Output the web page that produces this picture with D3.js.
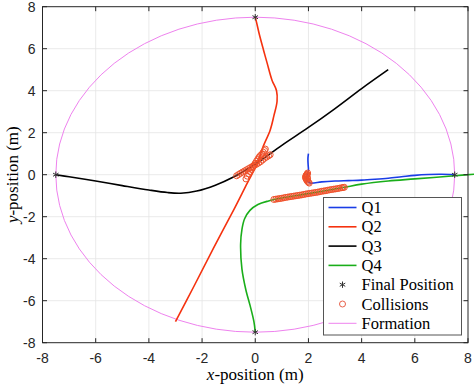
<!DOCTYPE html>
<html>
<head>
<meta charset="utf-8">
<script src="https://cdn.jsdelivr.net/npm/d3@7"></script>
<style>
  body { margin: 0; background: #fff; }
  svg { display: block; }
</style>
</head>
<body>
<div id="chart"></div>
<script>
// trajectories (x, y in metres)
const q1 = [[2.0,1.0],[1.98,0.75],[1.99,0.45],[2.0,0.2],[1.95,0.0],[1.93,-0.2],[1.98,-0.33],[2.09,-0.4],
  [2.5,-0.34],[3.0,-0.3],[3.5,-0.28],[4.0,-0.26],[4.5,-0.22],[5.0,-0.17],[5.5,-0.1],[6.0,-0.03],
  [6.5,0.01],[7.0,0.02],[7.5,0.0]];
const q2 = [[-3.0,-7.0],[-2.3,-5.3],[-1.57,-3.5],[-0.8,-1.65],[-0.3,-0.4],[0.05,0.46],[0.3,1.35],
  [0.56,2.12],[0.7,2.8],[0.82,3.5],[0.8,4.0],[0.63,4.5],[0.45,5.3],[0.31,5.94],[0.15,6.7],
  [0.04,7.3],[0.0,7.5]];
const q3 = [[5.0,5.0],[4.0,4.1],[3.0,3.15],[2.0,2.25],[1.0,1.4],[0.0,0.5],[-0.8,-0.1],[-1.5,-0.5],
  [-2.2,-0.78],[-2.8,-0.88],[-3.3,-0.85],[-4.0,-0.73],[-5.0,-0.52],[-6.0,-0.3],[-7.0,-0.1],[-7.5,0.0]];
const q4 = [[8.3,0.03],[7.5,-0.05],[6.0,-0.2],[5.0,-0.3],[4.0,-0.45],[3.3,-0.61],[2.0,-0.9],
  [1.0,-1.11],[0.5,-1.25],[0.1,-1.42],[-0.2,-1.7],[-0.4,-2.1],[-0.5,-2.6],[-0.55,-3.3],
  [-0.5,-4.5],[-0.35,-5.5],[-0.2,-6.2],[-0.05,-7.0],[0.0,-7.5]];

const finalPositions = [[7.5,0],[0,7.5],[-7.5,0],[0,-7.5]];
const formationRadius = 7.5;

// crossing of Q2 and Q3
const collisionsCross = [
  [-0.7,-0.05],[-0.625,0.01],[-0.55,0.07],[-0.475,0.125],[-0.4,0.18],[-0.325,0.235],[-0.25,0.29],
  [-0.175,0.345],[-0.1,0.4],[-0.025,0.45],[0.05,0.5],[0.125,0.56],[0.2,0.62],[0.275,0.7],
  [0.35,0.78],[0.425,0.84],[0.5,0.9],[0.56,0.95],
  [-0.35,-0.2],[-0.3,-0.07],[-0.25,0.05],[-0.2,0.15],[-0.15,0.25],[-0.1,0.35],[-0.05,0.45],
  [0.0,0.55],[0.05,0.65],[0.1,0.75],[0.15,0.85],[0.2,0.92],[0.25,0.98],[0.3,1.07],[0.35,1.15],[0.38,1.22]
];
// Q1 near its start
const collisionsStart = [
  [1.97,0.08],[1.95,0.03],[1.92,-0.02],[1.9,-0.07],[1.89,-0.12],[1.9,-0.17],[1.92,-0.22],
  [1.94,-0.27],[1.97,-0.32],[2.0,-0.36],[2.03,-0.4],[1.96,-0.1],[1.97,-0.2],[1.94,0.0],[1.93,-0.05]
];
// Q4 passing Q1
const collisionsPass = [
  [0.7,-1.18],[0.775,-1.165],[0.85,-1.15],[0.925,-1.135],[1.0,-1.12],[1.075,-1.1],[1.15,-1.08],
  [1.225,-1.065],[1.3,-1.05],[1.375,-1.035],[1.45,-1.02],[1.525,-1.005],[1.6,-0.99],[1.675,-0.975],
  [1.75,-0.96],[1.825,-0.94],[1.9,-0.92],[1.975,-0.905],[2.05,-0.89],[2.125,-0.875],[2.2,-0.86],
  [2.275,-0.845],[2.35,-0.83],[2.425,-0.81],[2.5,-0.79],[2.575,-0.775],[2.65,-0.76],[2.725,-0.74],
  [2.8,-0.72],[2.875,-0.705],[2.95,-0.69],[3.025,-0.675],[3.1,-0.66],[3.175,-0.64],[3.25,-0.62],
  [3.3,-0.61],[3.35,-0.6]
];

const ticks = [-8,-6,-4,-2,0,2,4,6,8];

const W = 474, H = 387;
const x = d3.scaleLinear().domain([-8, 8]).range([42.5, 468]);
const y = d3.scaleLinear().domain([-8, 8]).range([342.7, 6.7]);

const svg = d3.select('#chart').append('svg')
  .attr('width', W)
  .attr('height', H)
  .style('font-family', '"Liberation Sans", Arial, sans-serif');

// grid
const grid = svg.append('g').attr('stroke', '#e3e3e3').attr('stroke-width', 0.8);
grid.selectAll('.gx').data(ticks.slice(1, -1)).join('line')
  .attr('x1', d => x(d)).attr('x2', d => x(d))
  .attr('y1', y(-8)).attr('y2', y(8));
grid.selectAll('.gy').data(ticks.slice(1, -1)).join('line')
  .attr('y1', d => y(d)).attr('y2', d => y(d))
  .attr('x1', x(-8)).attr('x2', x(8));

// formation circle
svg.append('ellipse')
  .attr('cx', x(0)).attr('cy', y(0))
  .attr('rx', x(formationRadius) - x(0))
  .attr('ry', y(0) - y(formationRadius))
  .attr('fill', 'none')
  .attr('stroke', '#ee82ee')
  .attr('stroke-width', 1);

const line = d3.line().x(d => x(d[0])).y(d => y(d[1])).curve(d3.curveCatmullRom);

const series = [
  {name: 'Q1', data: q1, color: '#1a3de6'},
  {name: 'Q2', data: q2, color: '#f5320f'},
  {name: 'Q3', data: q3, color: '#000000'},
  {name: 'Q4', data: q4, color: '#1aae1a'}
];

svg.append('g').selectAll('path').data(series).join('path')
  .attr('d', d => line(d.data))
  .attr('fill', 'none')
  .attr('stroke', d => d.color)
  .attr('stroke-width', 1.6);

// collisions
const collisions = collisionsCross.concat(collisionsStart, collisionsPass);
svg.append('g').selectAll('circle').data(collisions).join('circle')
  .attr('cx', d => x(d[0])).attr('cy', d => y(d[1]))
  .attr('r', 3)
  .attr('fill', 'none')
  .attr('stroke', '#f0502a')
  .attr('stroke-width', 1);

// final positions
const star = d3.symbol().type(d3.symbolAsterisk).size(28);
svg.append('g').selectAll('path').data(finalPositions).join('path')
  .attr('transform', d => `translate(${x(d[0])},${y(d[1])})`)
  .attr('d', star)
  .attr('fill', 'none')
  .attr('stroke', '#333')
  .attr('stroke-width', 1);

// axes box + ticks
const axisColor = '#262626';
const ax = svg.append('g');
ax.append('rect')
  .attr('x', x(-8)).attr('y', y(8))
  .attr('width', x(8) - x(-8)).attr('height', y(-8) - y(8))
  .attr('fill', 'none').attr('stroke', axisColor).attr('stroke-width', 1);

const tl = 4.5;
ax.selectAll('.tb').data(ticks).join('line')
  .attr('x1', d => x(d)).attr('x2', d => x(d))
  .attr('y1', y(-8)).attr('y2', y(-8) - tl)
  .attr('stroke', axisColor);
ax.selectAll('.tt').data(ticks).join('line')
  .attr('x1', d => x(d)).attr('x2', d => x(d))
  .attr('y1', y(8)).attr('y2', y(8) + tl)
  .attr('stroke', axisColor);
ax.selectAll('.tlft').data(ticks).join('line')
  .attr('y1', d => y(d)).attr('y2', d => y(d))
  .attr('x1', x(-8)).attr('x2', x(-8) + tl)
  .attr('stroke', axisColor);
ax.selectAll('.trt').data(ticks).join('line')
  .attr('y1', d => y(d)).attr('y2', d => y(d))
  .attr('x1', x(8)).attr('x2', x(8) - tl)
  .attr('stroke', axisColor);

ax.selectAll('.xl').data(ticks).join('text')
  .attr('x', d => x(d)).attr('y', y(-8) + 20)
  .attr('text-anchor', 'middle')
  .attr('font-size', 14)
  .attr('fill', axisColor)
  .text(d => d);
ax.selectAll('.yl').data(ticks).join('text')
  .attr('x', x(-8) - 7).attr('y', d => y(d) + 5)
  .attr('text-anchor', 'end')
  .attr('font-size', 14)
  .attr('fill', axisColor)
  .text(d => d);

// axis labels
const serif = '"Liberation Serif", "Times New Roman", serif';
const xlab = svg.append('text')
  .attr('x', x(0)).attr('y', 380)
  .attr('text-anchor', 'middle')
  .attr('font-family', serif).attr('font-size', 17)
  .attr('fill', '#000');
xlab.append('tspan').attr('font-style', 'italic').text('x');
xlab.append('tspan').text('-position (m)');

const ylab = svg.append('text')
  .attr('transform', `translate(18,${y(0)}) rotate(-90)`)
  .attr('text-anchor', 'middle')
  .attr('font-family', serif).attr('font-size', 17)
  .attr('fill', '#000');
ylab.append('tspan').attr('font-style', 'italic').text('y');
ylab.append('tspan').text('-position (m)');

// legend
const legendItems = [
  {label: 'Q1', kind: 'line', color: '#1a3de6'},
  {label: 'Q2', kind: 'line', color: '#f5320f'},
  {label: 'Q3', kind: 'line', color: '#000000'},
  {label: 'Q4', kind: 'line', color: '#1aae1a'},
  {label: 'Final Position', kind: 'star', color: '#333'},
  {label: 'Collisions', kind: 'circle', color: '#e8604a'},
  {label: 'Formation', kind: 'thin', color: '#ee82ee'}
];
const lg = svg.append('g').attr('transform', 'translate(323.5,197.5)');
lg.append('rect')
  .attr('width', 138).attr('height', 137.5)
  .attr('fill', '#fff').attr('stroke', '#555').attr('stroke-width', 1);
const row = lg.selectAll('g').data(legendItems).join('g')
  .attr('transform', (d, i) => `translate(0,${10 + i * 19.3})`);
row.filter(d => d.kind === 'line' || d.kind === 'thin').append('line')
  .attr('x1', 5).attr('x2', 33)
  .attr('stroke', d => d.color)
  .attr('stroke-width', d => d.kind === 'thin' ? 1 : 1.6);
row.filter(d => d.kind === 'star').append('path')
  .attr('transform', 'translate(19,0)')
  .attr('d', star)
  .attr('fill', 'none').attr('stroke', d => d.color);
row.filter(d => d.kind === 'circle').append('circle')
  .attr('cx', 19).attr('r', 3)
  .attr('fill', 'none').attr('stroke', d => d.color);
row.append('text')
  .attr('x', 38).attr('y', 5.5)
  .attr('font-family', serif).attr('font-size', 16.5)
  .attr('fill', '#000')
  .text(d => d.label);
</script>
</body>
</html>
